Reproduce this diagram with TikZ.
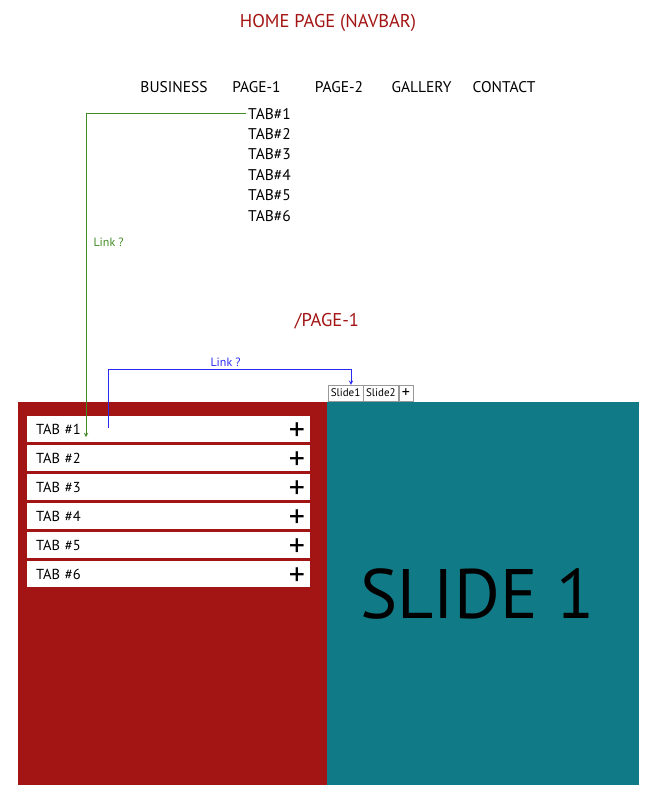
\documentclass[tikz,border=0pt]{standalone}
\usepackage{fontspec}
\setmainfont{PT Sans}
\usetikzlibrary{arrows,positioning}
\definecolor{pagered}{HTML}{A31414}
\definecolor{slideteal}{HTML}{117A87}
\definecolor{linkgreen}{HTML}{3F8A22}
\definecolor{linkblue}{HTML}{2B2BF2}
\tikzset{
     title node/.style={text=pagered, font=\fontsize{18.5}{20}\selectfont, anchor=base},
     nav node/.style={font=\fontsize{15.5}{17}\selectfont, inner sep=2pt},
     tabbar/.style={fill=white, minimum width=283pt, minimum height=26pt, inner sep=0pt,
       text width=265pt, align=left, font=\fontsize{14.5}{17}\selectfont},
     plus node/.style={font=\fontsize{32}{32}\selectfont, inner sep=0pt, yshift=-2.5pt},
     slidetab/.style={draw=black!40, fill=white, minimum height=16pt, inner sep=0pt,
       font=\fontsize{11}{12}\selectfont},
     link label/.style={font=\fontsize{12}{13}\selectfont, anchor=base west},
      greenlink/.style = {linkgreen, ->, >=stealth, line width=0.9pt},
      bluelink/.style = {linkblue, ->, >=stealth, line width=0.9pt},
    }

\begin{document}
\begin{tikzpicture}[x=1pt,y=-1pt,on grid]
        \useasboundingbox (0,0) rectangle (657,800);

        % headings
        \node [title node] (home) at (328,28)   {HOME PAGE (NAVBAR)};
        \node [title node] (page) at (327,326)  {/PAGE-1};

        % navbar
        \node [nav node] (business) at (174,87.5)        {BUSINESS};
        \node [nav node] (page1) [right=82.5pt of business] {PAGE-1};
        \node [nav node] (page2) [right=82.5pt of page1]    {PAGE-2};
        \node [nav node] (gallery) [right=82.5pt of page2]  {GALLERY};
        \node [nav node] (contact) [right=82.5pt of gallery] {CONTACT};

        \node [nav node, anchor=base west] (t1) at (246,119) {TAB\#1};
        \node [nav node, below=20.5pt of t1.west, anchor=west] (t2) {TAB\#2};
        \node [nav node, below=20.5pt of t2.west, anchor=west] (t3) {TAB\#3};
        \node [nav node, below=20.5pt of t3.west, anchor=west] (t4) {TAB\#4};
        \node [nav node, below=20.5pt of t4.west, anchor=west] (t5) {TAB\#5};
        \node [nav node, below=20.5pt of t5.west, anchor=west] (t6) {TAB\#6};

        % page panels
        \fill [pagered]   (18,402)  rectangle (327,785);
        \fill [slideteal] (327,402) rectangle (639,785);
        \node [font=\fontsize{70}{70}\selectfont, anchor=base] (slide) at (477.5,618) {SLIDE 1};

        \node [tabbar] (bar1) at (168.5,429)         {TAB \#1};
        \node [tabbar] (bar2) [below=29pt of bar1]   {TAB \#2};
        \node [tabbar] (bar3) [below=29pt of bar2]   {TAB \#3};
        \node [tabbar] (bar4) [below=29pt of bar3]   {TAB \#4};
        \node [tabbar] (bar5) [below=29pt of bar4]   {TAB \#5};
        \node [tabbar] (bar6) [below=29pt of bar5]   {TAB \#6};

        \node [plus node] (plus1) [left=5pt of bar1.east] {+};
        \node [plus node] (plus2) [left=5pt of bar2.east] {+};
        \node [plus node] (plus3) [left=5pt of bar3.east] {+};
        \node [plus node] (plus4) [left=5pt of bar4.east] {+};
        \node [plus node] (plus5) [left=5pt of bar5.east] {+};
        \node [plus node] (plus6) [left=5pt of bar6.east] {+};

        % slide switcher
        \node [slidetab, minimum width=35pt] (slide1) at (345.5,393) {Slide1};
        \node [slidetab, minimum width=35pt, right=0pt of slide1.east, anchor=west] (slide2) {Slide2};
        \node [slidetab, minimum width=14pt, right=0pt of slide2.east, anchor=west,
          font=\fontsize{16}{16}\selectfont] (slideadd) {+};

        % links
        \coordinate (greenend) at (86,437);
        \coordinate (bluestart) at (108,428);
        \coordinate (bluecorner) at (351,369);
        \draw [greenlink] (t1.west) -| (greenend);
        \draw [bluelink] (bluestart) |- (bluecorner) -- (bluecorner |- slide1.north);
        \node [link label, text=linkgreen] (greenlabel) at (90,246) {Link ?};
        \node [link label, text=linkblue]  (bluelabel)  at (207,366) {Link ?};
    \end{tikzpicture}
\end{document}
